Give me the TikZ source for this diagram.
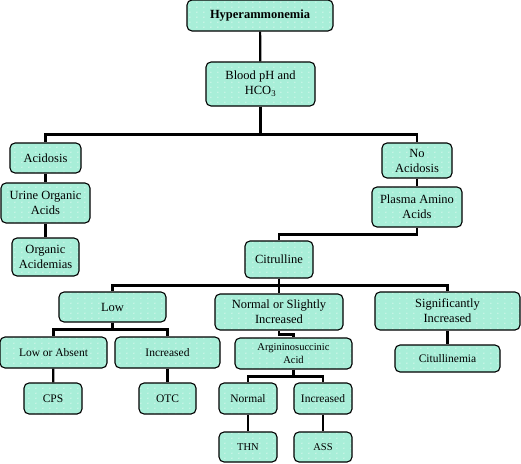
\documentclass[tikz,border=0pt]{standalone}
\usepackage{fontspec}
\setmainfont{Liberation Serif}
\usepackage{tikz}
\usetikzlibrary{patterns,positioning}
\definecolor{mint}{HTML}{A8EED8}

\pgfdeclarepatternformonly{sparse dots}{\pgfpointorigin}{\pgfpoint{7pt}{5pt}}%
  {\pgfpoint{7pt}{5pt}}{\pgfpathcircle{\pgfpoint{1pt}{1pt}}{0.6pt}\pgfusepath{fill}}

\begin{document}
\begin{tikzpicture}[
    x=1pt, y=-1pt,
    box/.style={draw=black, line width=1.1pt, rounded corners=5pt,
                preaction={fill=mint}, pattern=sparse dots, pattern color=white,
                align=center, inner sep=1pt,
                font=\fontsize{12.5}{15}\selectfont},
    mid/.style={box, font=\fontsize{11.5}{13.5}\selectfont},
    small/.style={box, font=\fontsize{10.5}{13}\selectfont},
    link/.style={line width=2.2pt, draw=black},
  ]
  \useasboundingbox[fill=white] (0,0) rectangle (521,463);

  \node[box, minimum width=146pt, minimum height=31pt, font=\fontsize{12.5}{15}\selectfont\bfseries]
    (hyper) at (260,15.5) {Hyperammonemia};
  \node[box, minimum width=109pt, minimum height=44pt] (blood) at (260.5,84)
    {Blood pH and\\HCO\textsubscript{3}};

  \node[box, minimum width=71pt, minimum height=30pt] (acid) at (45.5,158) {Acidosis};
  \node[box, minimum width=89pt, minimum height=40pt] (urine) at (45.5,203) {Urine Organic\\Acids};
  \node[box, minimum width=67pt, minimum height=38pt] (orgac) at (45.5,257) {Organic\\Acidemias};

  \node[box, minimum width=70pt, minimum height=35pt] (noacid) at (417,160.5) {No\\Acidosis};
  \node[box, minimum width=90pt, minimum height=40pt] (plasma) at (417,207) {Plasma Amino\\Acids};
  \node[box, minimum width=68pt, minimum height=37pt] (citr) at (279,259.5) {Citrulline};

  \node[box, minimum width=107pt, minimum height=30pt] (low) at (112.5,307) {Low};
  \node[box, minimum width=128pt, minimum height=36pt] (nsi) at (279,312) {Normal or Slightly\\Increased};
  \node[box, minimum width=145pt, minimum height=38pt] (sig) at (447.5,311) {Significantly\\Increased};

  \node[mid, minimum width=107pt, minimum height=31pt] (lowabs) at (53.5,352.5) {Low or Absent};
  \node[mid, minimum width=105pt, minimum height=31pt] (incl) at (167.5,352.5) {Increased};
  \node[mid, minimum width=58pt, minimum height=31pt] (cps) at (53,398.5) {CPS};
  \node[mid, minimum width=57pt, minimum height=31pt] (otc) at (167.5,398.5) {OTC};

  \node[small, minimum width=117pt, minimum height=31pt] (asa) at (293.5,353.5) {Argininosuccinic\\Acid};
  \node[mid, minimum width=58pt, minimum height=31pt] (norm) at (248,398.5) {Normal};
  \node[mid, minimum width=58pt, minimum height=31pt] (incr) at (323,398.5) {Increased};
  \node[small, minimum width=58pt, minimum height=30pt] (thn) at (248,447) {THN};
  \node[small, minimum width=58pt, minimum height=30pt] (ass) at (323,447) {ASS};

  \node[mid, minimum width=105pt, minimum height=27pt] (citul) at (447.5,358.5) {Citullinemia};

  \draw[link] (hyper) -- (blood);
  \draw[link] (blood.south) -- ++(0,28) -| (acid.north);
  \draw[link] (blood.south) -- ++(0,28) -| (noacid.north);
  \draw[link] (acid) -- (urine);
  \draw[link] (urine) -- (orgac);
  \draw[link] (noacid) -- (plasma);
  \draw[link] (plasma.south) -- ++(0,7) -| (citr.north);

  \draw[link] (citr.south) -- ++(0,7) -| (low.north);
  \draw[link] (citr.south) -- ++(0,7) -| (sig.north);
  \draw[link] (citr) -- (nsi);

  \draw[link] (low.south) -- ++(0,7) -| (lowabs.north);
  \draw[link] (low.south) -- ++(0,7) -| (incl.north);
  \draw[link] (lowabs) -- (cps);
  \draw[link] (incl) -- (otc);

  \draw[link] (nsi.south) -- ++(0,4) -| (asa.north);
  \draw[link] (asa.south) -- ++(0,7) -| (norm.north);
  \draw[link] (asa.south) -- ++(0,7) -| (incr.north);
  \draw[link] (norm) -- (thn);
  \draw[link] (incr) -- (ass);

  \draw[link] (sig) -- (citul);
\end{tikzpicture}
\end{document}
